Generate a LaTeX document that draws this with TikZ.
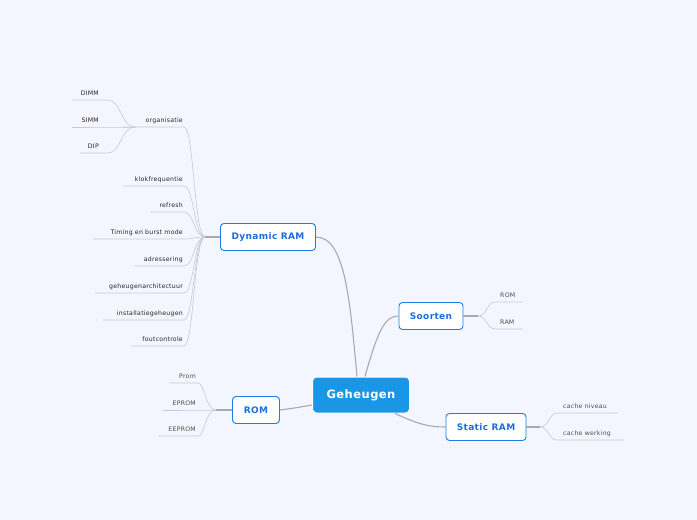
\documentclass[tikz,border=0pt]{standalone}
\usepackage{fontspec}
\setmainfont{DejaVu Sans}[LetterSpace=4]
\begin{document}
\begin{tikzpicture}[x=1pt,y=-1pt,
  main/.style={fill=mainblue,draw=white,line width=1pt,rounded corners=4pt,text=white,font=\bfseries\fontsize{11.5}{13}\selectfont,minimum width=97,minimum height=36,inner sep=0},
  branch/.style={fill=white,draw=branchblue,line width=0.9pt,rounded corners=3.5pt,text=branchtext,font=\bfseries\fontsize{9}{11}\selectfont,minimum height=27,inner sep=0},
  leafl/.style={anchor=base east,font=\fontsize{6.2}{7}\selectfont,text=black!85,inner sep=0},
  leafr/.style={anchor=base west,font=\fontsize{6.2}{7}\selectfont,text=black!70,inner sep=0},
  conn/.style={draw=conngray,line width=1.1pt},
  leaf/.style={draw=leafgray,line width=0.6pt}]
\definecolor{mainblue}{HTML}{1A96E6}
\definecolor{branchblue}{HTML}{1A7EE6}
\definecolor{branchtext}{HTML}{1A6FD8}
\definecolor{conngray}{HTML}{AAAAAE}
\definecolor{leafgray}{HTML}{C8C9CF}
\fill[fill={rgb,255:red,243;green,246;blue,254}] (0,0) rectangle (697,520);
\useasboundingbox (0,0) rectangle (697,520);

\node[main] (g) at (361,395) {Geheugen};
\node[branch,minimum width=95] (d) at (268,237) {Dynamic RAM};
\node[branch,minimum width=64] (s) at (431,316) {Soorten};
\node[branch,minimum width=80] (st) at (486,427) {Static RAM};
\node[branch,minimum width=47] (r) at (256,410) {ROM};

\draw[conn] ([xshift=-4]g.north) .. controls (350,300) and (345,237) .. (d.east);
\draw[conn] ([xshift=4]g.north) .. controls (378,330) and (385,316) .. (s.west);
\draw[conn] ([xshift=34]g.south) .. controls (420,425) and (430,427) .. (st.west);
\draw[conn] (g.west |- 0,405) .. controls (295,408) .. (r.east);

% Dynamic RAM leaves
\coordinate (hd) at (205,237);
\draw[conn] (d.west) -- (hd);
\foreach \n/\t/\y/\xl in {o/organisatie/127/123,k/klokfrequentie/186/123,rf/refresh/212/150,tm/Timing en burst mode/239/93,ad/adressering/266/134,ga/geheugenarchitectuur/293/95,ig/installatiegeheugen/320/103,fc/foutcontrole/346/131}{
  \node[leafl] (\n) at (183,\y-5) {\t};
  \coordinate (\n e) at (\xl,\y);
  \draw[leaf] (hd) .. controls (194,237) and (194,\y) .. (184,\y) -- (\n e);
}
% organisatie children
\coordinate (ho) at (135,127);
\foreach \n/\t/\y/\xl in {dimm/DIMM/100/72,simm/SIMM/127/72,dip/DIP/153/80}{
  \node[leafl] (\n) at (99,\y-5) {\t};
  \coordinate (\n e) at (\xl,\y);
  \draw[leaf] (ho) .. controls (121,127) and (121,\y) .. (108,\y) -- (\n e);
}
% ROM leaves
\coordinate (hr) at (216,410);
\draw[conn] (r.west) -- (hr);
\foreach \n/\t/\y/\xl in {pr/Prom/383/170,ep/EPROM/410/163,eep/EEPROM/436/158}{
  \node[leafl,text=black!70] (\n) at (196,\y-5) {\t};
  \coordinate (\n e) at (\xl,\y);
  \draw[leaf] (hr) .. controls (205,410) and (205,\y) .. (198,\y) -- (\n e);
}
% Soorten leaves
\coordinate (hs) at (478,316);
\draw[conn] (s.east) -- (hs);
\foreach \n/\t/\y/\xr in {sr/ROM/302/523,sa/RAM/329/523}{
  \node[leafr] (\n) at (500,\y-5) {\t};
  \coordinate (\n e) at (\xr,\y);
  \draw[leaf] (hs) .. controls (487,316) and (487,\y) .. (495,\y) -- (\n e);
}
% Static RAM leaves
\coordinate (hst) at (540,427);
\draw[conn] (st.east) -- (hst);
\foreach \n/\t/\y/\xr in {cn/cache niveau/413/618,cw/cache werking/440/624}{
  \node[leafr] (\n) at (563,\y-5) {\t};
  \coordinate (\n e) at (\xr,\y);
  \draw[leaf] (hst) .. controls (549,427) and (549,\y) .. (557,\y) -- (\n e);
}
\end{tikzpicture}
\end{document}
